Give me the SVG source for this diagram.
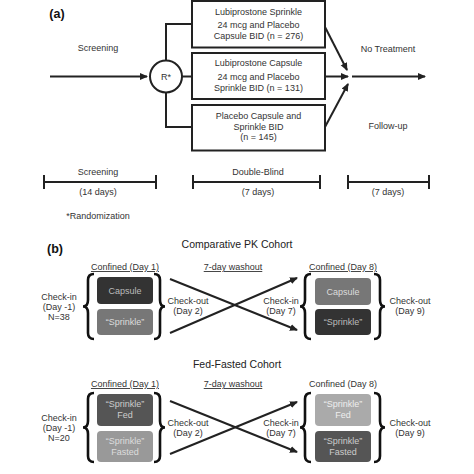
<svg xmlns="http://www.w3.org/2000/svg" width="474" height="474" viewBox="0 0 474 474">
<style>
text{font-family:"Liberation Sans",Arial,sans-serif;fill:#333;font-size:9px;text-anchor:middle}
.t{font-size:10.5px;fill:#222}
.lab{font-size:12.5px;font-weight:bold;fill:#111}
.u{text-decoration:underline}
.ln{stroke:#222;stroke-width:2;fill:none}
.box{fill:#fff;stroke:#222;stroke-width:2}
.br{fill:none;stroke:#111;stroke-width:2.6}
</style>
<defs>
<marker id="ah" markerWidth="8" markerHeight="8" refX="7" refY="4" orient="auto" markerUnits="userSpaceOnUse">
<path d="M0,0.5 L8,4 L0,7.5 Z" fill="#222"/>
</marker>
</defs>
<rect width="474" height="474" fill="#fff"/>
<text class="lab" x="57" y="18">(a)</text>
<text x="98" y="51">Screening</text>
<text x="388" y="52">No Treatment</text>
<text x="388" y="129">Follow-up</text>
<g id="R">
<circle cx="166" cy="76.5" r="16" fill="#fff" stroke="#222" stroke-width="2"/>
<text x="166" y="79.5">R*</text>
</g>
<g id="arm1"><rect class="box" x="192" y="1" width="133" height="46.5"/>
<text x="258.5" y="15">Lubiprostone Sprinkle</text><text x="258.5" y="28">24 mcg and Placebo</text><text x="258.5" y="39">Capsule BID (n = 276)</text></g>
<g id="arm2"><rect class="box" x="192" y="53" width="133" height="46"/>
<text x="258.5" y="66">Lubiprostone Capsule</text><text x="258.5" y="80">24 mcg and Placebo</text><text x="258.5" y="91">Sprinkle BID (n = 131)</text></g>
<g id="arm3"><rect class="box" x="192" y="105" width="133" height="45.5"/>
<text x="258.5" y="119">Placebo Capsule and</text><text x="258.5" y="130">Sprinkle BID</text><text x="258.5" y="140">(n = 145)</text></g>
<g id="connectors-a">
<path class="ln" d="M50,76.5 H147" marker-end="url(#ah)"/>
<path class="ln" d="M166,60.5 V24 H192"/>
<path class="ln" d="M182,76.5 H192"/>
<path class="ln" d="M166,92.5 V127 H192"/>
<path class="ln" d="M325,27 L347,70" marker-end="url(#ah)"/>
<path class="ln" d="M325,76.5 H348" marker-end="url(#ah)"/>
<path class="ln" d="M325,127 L348,84" marker-end="url(#ah)"/>
<path class="ln" d="M352,76.5 H425" marker-end="url(#ah)"/>
</g>
<g id="timeline">
<path class="ln" d="M44,182 H156 M44,175 V189 M156,175 V189"/>
<path class="ln" d="M193,182 H320 M193,175 V189 M320,175 V189"/>
<path class="ln" d="M348,182 H429 M348,175 V189 M429,175 V189"/>
<text x="98" y="175">Screening</text>
<text x="98" y="195">(14 days)</text>
<text x="258" y="175">Double-Blind</text>
<text x="258" y="195">(7 days)</text>
<text x="388" y="195">(7 days)</text>
<text x="98" y="219">*Randomization</text>
</g>
<text class="lab" x="55" y="253">(b)</text>
<g id="pk-cohort">
<text class="t" x="237" y="248">Comparative PK Cohort</text>
<text class="u" x="125" y="270">Confined (Day 1)</text>
<text class="u" x="233" y="270">7-day washout</text>
<text class="u" x="343" y="270">Confined (Day 8)</text>
<text x="59" y="300">Check-in</text><text x="59" y="310">(Day -1)</text><text x="59" y="320">N=38</text>
<text x="188" y="304">Check-out</text><text x="188" y="314">(Day 2)</text>
<text x="281" y="304">Check-in</text><text x="281" y="314">(Day 7)</text>
<text x="410" y="304">Check-out</text><text x="410" y="314">(Day 9)</text>
<path class="br" d="M94,274 Q88,274 88,280 V300 Q88,306.5 83,306.5 Q88,306.5 88,313 V333 Q88,339 94,339"/>
<path class="br" d="M154,274 Q160,274 160,280 V300 Q160,306.5 165,306.5 Q160,306.5 160,313 V333 Q160,339 154,339"/>
<path class="br" d="M311,274 Q305,274 305,280 V300 Q305,306.5 300,306.5 Q305,306.5 305,313 V333 Q305,339 311,339"/>
<path class="br" d="M374,274 Q380,274 380,280 V300 Q380,306.5 385,306.5 Q380,306.5 380,313 V333 Q380,339 374,339"/>
<rect x="97" y="277" width="56" height="27" rx="4" fill="#333"/>
<text x="125" y="294" style="fill:#bbb">Capsule</text>
<rect x="97" y="309" width="56" height="26" rx="4" fill="#777"/>
<text x="125" y="325" style="fill:#ddd">“Sprinkle”</text>
<rect x="315" y="278" width="56" height="27" rx="4" fill="#777"/>
<text x="343" y="294.5" style="fill:#ddd">Capsule</text>
<rect x="315" y="309" width="56" height="26" rx="4" fill="#333"/>
<text x="343" y="325" style="fill:#bbb">“Sprinkle”</text>
<path class="ln" d="M170,279 L297,330" marker-end="url(#ah)"/>
<path class="ln" d="M170,333 L297,278" marker-end="url(#ah)"/>
</g>
<g id="fed-fasted-cohort">
<text class="t" x="237" y="368">Fed-Fasted Cohort</text>
<text class="u" x="125" y="387">Confined (Day 1)</text>
<text class="u" x="233" y="387">7-day washout</text>
<text x="343" y="387">Confined (Day 8)</text>
<text x="59" y="421">Check-in</text><text x="59" y="431">(Day -1)</text><text x="59" y="441">N=20</text>
<text x="188" y="426">Check-out</text><text x="188" y="436">(Day 2)</text>
<text x="281" y="426">Check-in</text><text x="281" y="436">(Day 7)</text>
<text x="410" y="426">Check-out</text><text x="410" y="436">(Day 9)</text>
<path class="br" d="M94,393 Q88,393 88,399 V421 Q88,427.5 83,427.5 Q88,427.5 88,434 V456 Q88,462 94,462"/>
<path class="br" d="M154,393 Q160,393 160,399 V421 Q160,427.5 165,427.5 Q160,427.5 160,434 V456 Q160,462 154,462"/>
<path class="br" d="M311,393 Q305,393 305,399 V421 Q305,427.5 300,427.5 Q305,427.5 305,434 V456 Q305,462 311,462"/>
<path class="br" d="M374,393 Q380,393 380,399 V421 Q380,427.5 385,427.5 Q380,427.5 380,434 V456 Q380,462 374,462"/>
<rect x="97" y="394" width="56" height="32" rx="4" fill="#555"/>
<text x="125" y="407" style="fill:#ccc">“Sprinkle”</text><text x="125" y="418" style="fill:#ccc">Fed</text>
<rect x="97" y="431" width="56" height="31" rx="4" fill="#999"/>
<text x="125" y="444" style="fill:#ddd">“Sprinkle”</text><text x="125" y="455" style="fill:#ddd">Fasted</text>
<rect x="315" y="394" width="56" height="32" rx="4" fill="#aaa"/>
<text x="343" y="407" style="fill:#eee">“Sprinkle”</text><text x="343" y="418" style="fill:#eee">Fed</text>
<rect x="315" y="431" width="56" height="31" rx="4" fill="#555"/>
<text x="343" y="444" style="fill:#ccc">“Sprinkle”</text><text x="343" y="455" style="fill:#ccc">Fasted</text>
<path class="ln" d="M170,401 L297,452" marker-end="url(#ah)"/>
<path class="ln" d="M170,454 L297,402" marker-end="url(#ah)"/>
</g>
</svg>
